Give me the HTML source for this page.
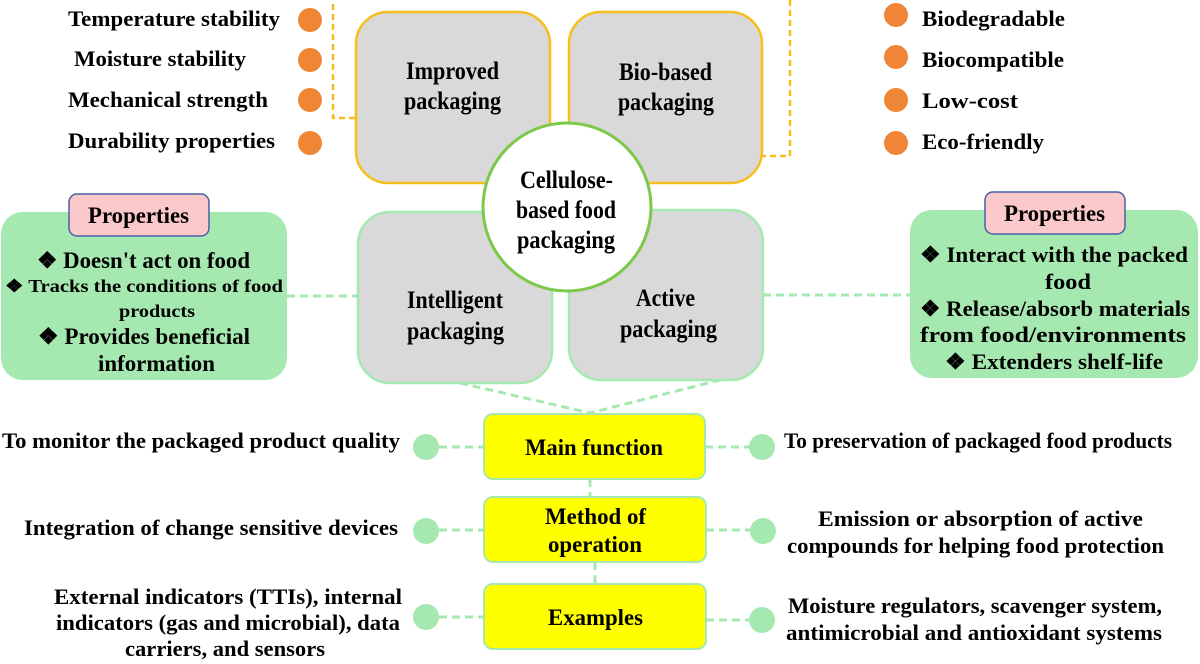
<!DOCTYPE html>
<html><head><style>
body{margin:0;background:#fff}
svg{display:block}
text{font-family:"Liberation Serif",serif;font-weight:bold;fill:#000}
</style></head><body>
<svg width="1200" height="664" viewBox="0 0 1200 664">
<g fill="none" stroke="#f6bf1e" stroke-width="2.5" stroke-dasharray="6,4">
<path d="M333 4 V118 H356"/>
<path d="M790 0 V156 H762"/>
</g>
<g fill="none" stroke="#a6e9b0" stroke-width="3" stroke-dasharray="8,5">
<path d="M287 296 H358"/>
<path d="M763 295 H910"/>
<path d="M460 383 L590 413 L720 380"/>
<path d="M439 447 H484 M705 447 H750"/>
<path d="M439 530 H484 M706 530 H750"/>
<path d="M439 617 H484 M706 620 H750"/>
<path d="M590 479 V497 M595 562 V584"/>
</g>
<rect x="356" y="12" width="194" height="171" rx="32" fill="#d9d9d9" stroke="#f6bf1e" stroke-width="2.5"/>
<rect x="569" y="12" width="193" height="171" rx="32" fill="#d9d9d9" stroke="#f6bf1e" stroke-width="2.5"/>
<rect x="358" y="212" width="194" height="171" rx="32" fill="#d9d9d9" stroke="#a6e9b0" stroke-width="2.5"/>
<rect x="569" y="210" width="194" height="170" rx="32" fill="#d9d9d9" stroke="#a6e9b0" stroke-width="2.5"/>
<circle cx="567" cy="207" r="84" fill="#fff" stroke="#7cc94a" stroke-width="3"/>
<g font-size="25">
<text x="406" y="79" textLength="93" lengthAdjust="spacingAndGlyphs">Improved</text><text x="404" y="109" textLength="97" lengthAdjust="spacingAndGlyphs">packaging</text>
<text x="619" y="80" textLength="93" lengthAdjust="spacingAndGlyphs">Bio-based</text><text x="618" y="110" textLength="96" lengthAdjust="spacingAndGlyphs">packaging</text>
<text x="407" y="308" textLength="96" lengthAdjust="spacingAndGlyphs">Intelligent</text><text x="407" y="339" textLength="97" lengthAdjust="spacingAndGlyphs">packaging</text>
<text x="636" y="306" textLength="59" lengthAdjust="spacingAndGlyphs">Active</text><text x="620" y="337" textLength="97" lengthAdjust="spacingAndGlyphs">packaging</text>
<text x="520" y="188" textLength="93" lengthAdjust="spacingAndGlyphs">Cellulose-</text><text x="516" y="218" textLength="100" lengthAdjust="spacingAndGlyphs">based food</text><text x="517" y="248" textLength="98" lengthAdjust="spacingAndGlyphs">packaging</text>
</g>
<g fill="#ef8636">
<circle cx="310" cy="20" r="12"/><circle cx="310" cy="60" r="12"/><circle cx="310" cy="100" r="12"/><circle cx="310" cy="143" r="12"/>
<circle cx="896" cy="15" r="12"/><circle cx="896" cy="57" r="12"/><circle cx="896" cy="100" r="12"/><circle cx="896" cy="143" r="12"/>
</g>
<g font-size="22">
<text x="68" y="26" textLength="212" lengthAdjust="spacingAndGlyphs">Temperature stability</text>
<text x="74" y="66" textLength="172" lengthAdjust="spacingAndGlyphs">Moisture stability</text>
<text x="68" y="107" textLength="200" lengthAdjust="spacingAndGlyphs">Mechanical strength</text>
<text x="68" y="148" textLength="207" lengthAdjust="spacingAndGlyphs">Durability properties</text>
<text x="922" y="26" textLength="143" lengthAdjust="spacingAndGlyphs">Biodegradable</text>
<text x="922" y="67" textLength="142" lengthAdjust="spacingAndGlyphs">Biocompatible</text>
<text x="922" y="108" textLength="96" lengthAdjust="spacingAndGlyphs">Low-cost</text>
<text x="922" y="149" textLength="122" lengthAdjust="spacingAndGlyphs">Eco-friendly</text>
</g>
<rect x="1" y="212" width="286" height="168" rx="22" fill="#a6e9b0"/>
<rect x="910" y="210" width="288" height="168" rx="22" fill="#a6e9b0"/>
<rect x="69" y="194" width="140" height="42" rx="8" fill="#fbc9c9" stroke="#4a5fa8" stroke-width="1.5"/>
<rect x="985" y="192" width="140" height="42" rx="8" fill="#fbc9c9" stroke="#4a5fa8" stroke-width="1.5"/>
<g font-size="23">
<text x="88" y="223" textLength="101" lengthAdjust="spacingAndGlyphs">Properties</text>
<text x="1004" y="221" textLength="101" lengthAdjust="spacingAndGlyphs">Properties</text>
</g>
<g>
<text x="37" y="268" font-size="23" textLength="213" lengthAdjust="spacingAndGlyphs">❖ Doesn't act on food</text>
<text x="5" y="292" font-size="18" textLength="278" lengthAdjust="spacingAndGlyphs">❖ Tracks the conditions of food</text>
<text x="119" y="317" font-size="18" textLength="76" lengthAdjust="spacingAndGlyphs">products</text>
<text x="38" y="344" font-size="23" textLength="212" lengthAdjust="spacingAndGlyphs">❖ Provides beneficial</text>
<text x="98" y="371" font-size="23" textLength="117" lengthAdjust="spacingAndGlyphs">information</text>
<text x="920" y="262" font-size="22" textLength="268" lengthAdjust="spacingAndGlyphs">❖ Interact with the packed</text>
<text x="1045" y="289" font-size="22" textLength="46" lengthAdjust="spacingAndGlyphs">food</text>
<text x="920" y="316" font-size="22" textLength="270" lengthAdjust="spacingAndGlyphs">❖ Release/absorb materials</text>
<text x="920" y="342" font-size="22" textLength="266" lengthAdjust="spacingAndGlyphs">from food/environments</text>
<text x="945" y="369" font-size="22" textLength="218" lengthAdjust="spacingAndGlyphs">❖ Extenders shelf-life</text>
</g>
<g fill="#ffff00" stroke="#a6e9b0" stroke-width="2">
<rect x="484" y="414" width="221" height="65" rx="9"/>
<rect x="484" y="497" width="222" height="65" rx="9"/>
<rect x="484" y="584" width="222" height="65" rx="9"/>
</g>
<g font-size="23">
<text x="525" y="455" textLength="138" lengthAdjust="spacingAndGlyphs">Main function</text>
<text x="545" y="524" textLength="101" lengthAdjust="spacingAndGlyphs">Method of</text><text x="548" y="552" textLength="94" lengthAdjust="spacingAndGlyphs">operation</text>
<text x="548" y="625" textLength="95" lengthAdjust="spacingAndGlyphs">Examples</text>
</g>
<g fill="#a6e9b0">
<circle cx="426" cy="447" r="13"/><circle cx="426" cy="531" r="13"/><circle cx="426" cy="617" r="13"/>
<circle cx="762" cy="447" r="13"/><circle cx="763" cy="531" r="13"/><circle cx="762" cy="620" r="13"/>
</g>
<g font-size="22">
<text x="2" y="448" textLength="398" lengthAdjust="spacingAndGlyphs">To monitor the packaged product quality</text>
<text x="24" y="535" textLength="374" lengthAdjust="spacingAndGlyphs">Integration of change sensitive devices</text>
<text x="784" y="448" textLength="388" lengthAdjust="spacingAndGlyphs">To preservation of packaged food products</text>
<text x="54" y="604" textLength="348" lengthAdjust="spacingAndGlyphs">External indicators (TTIs), internal</text>
<text x="56" y="630" textLength="344" lengthAdjust="spacingAndGlyphs">indicators (gas and microbial), data</text>
<text x="125" y="656" textLength="200" lengthAdjust="spacingAndGlyphs">carriers, and sensors</text>
<text x="818" y="526" textLength="325" lengthAdjust="spacingAndGlyphs">Emission or absorption of active</text>
<text x="787" y="553" textLength="377" lengthAdjust="spacingAndGlyphs">compounds for helping food protection</text>
<text x="788" y="613" textLength="374" lengthAdjust="spacingAndGlyphs">Moisture regulators, scavenger system,</text>
<text x="786" y="640" textLength="376" lengthAdjust="spacingAndGlyphs">antimicrobial and antioxidant systems</text>
</g>
</svg>
</body></html>
